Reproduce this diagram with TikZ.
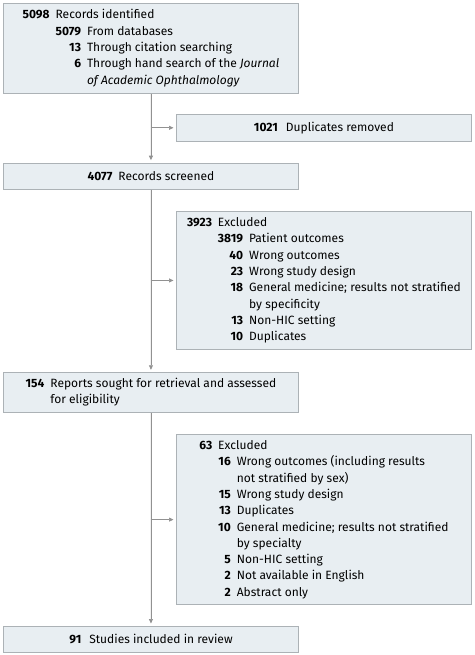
\documentclass[tikz,border=0pt]{standalone}
\usepackage{fontspec}
\setmainfont{Fira Sans}
\usepackage{tikz}
\usetikzlibrary{arrows.meta}

\definecolor{cajaFondo}{RGB}{232,238,242}
\definecolor{cajaBorde}{RGB}{172,178,182}
\definecolor{flechaGris}{RGB}{145,145,145}
\newcommand{\nbold}[1]{\textbf{#1}}

\begin{document}
\begin{tikzpicture}[
    x=1pt, y=-1pt,
    % Letra sin serifa, interlineado fijo
    font=\fontsize{12}{16.3}\selectfont,
    caja/.style={draw=cajaBorde, fill=cajaFondo, line width=0.9pt, anchor=north west, minimum width=295pt, inner sep=0pt, align=center},
    flechaFlujo/.style={-{Triangle[length=4.5pt, width=4pt]}, draw=flechaGris, fill=flechaGris, line width=0.7pt, shorten >=2.5pt}
]
    \useasboundingbox (0,0) rectangle (474,655);

    % --- CAJAS PRINCIPALES (columna izquierda) ---
    \node[caja, minimum height=89.7pt] (identified) at (3,3) {%
        \begin{tabular}{@{}r@{\hspace{6pt}}r@{\hspace{6pt}}l@{}}
            \nbold{5098} & \multicolumn{2}{@{}l@{}}{Records identified}\\
            & \nbold{5079} & From databases\\
            & \nbold{13} & Through citation searching\\
            & \nbold{6} & Through hand search of the \textit{Journal}\\
            & & \textit{of Academic Ophthalmology}
        \end{tabular}};
    \node[caja, minimum height=26pt] (screened) at (3,162.7) {\nbold{4077}\hspace{6pt}Records screened};
    \node[caja, minimum height=39.4pt] (reports) at (3,372.3) {%
        \begin{tabular}{@{}r@{\hspace{6pt}}l@{}}
            \nbold{154} & Reports sought for retrieval and assessed\\
            & for eligibility
        \end{tabular}};
    \node[caja, minimum height=25.7pt] (included) at (3,626) {\nbold{91}\hspace{8pt}Studies included in review};

    % --- CAJAS DE EXCLUSIÓN (columna derecha) ---
    \node[caja, minimum height=26.7pt] (duplicates) at (176,114) {\nbold{1021}\hspace{8pt}Duplicates removed};
    \node[caja, minimum height=138.6pt] (excludedA) at (176,210.7) {%
        \begin{tabular}{@{}r@{\hspace{6pt}}r@{\hspace{6pt}}l@{}}
            \nbold{3923} & \multicolumn{2}{@{}l@{}}{Excluded}\\
            & \nbold{3819} & Patient outcomes\\
            & \nbold{40} & Wrong outcomes\\
            & \nbold{23} & Wrong study design\\
            & \nbold{18} & General medicine; results not stratified\\
            & & by specificity\\
            & \nbold{13} & Non-HIC setting\\
            & \nbold{10} & Duplicates
        \end{tabular}};
    \node[caja, minimum height=169.7pt] (excludedB) at (176,434.3) {%
        \begin{tabular}{@{}r@{\hspace{6pt}}r@{\hspace{6pt}}l@{}}
            \nbold{63} & \multicolumn{2}{@{}l@{}}{Excluded}\\
            & \nbold{16} & Wrong outcomes (including results\\
            & & not stratified by sex)\\
            & \nbold{15} & Wrong study design\\
            & \nbold{13} & Duplicates\\
            & \nbold{10} & General medicine; results not stratified\\
            & & by specialty\\
            & \nbold{5} & Non-HIC setting\\
            & \nbold{2} & Not available in English\\
            & \nbold{2} & Abstract only
        \end{tabular}};

    % --- FLECHAS VERTICALES ---
    \draw[flechaFlujo] (identified) -- (screened);
    \draw[flechaFlujo] (screened) -- (reports);
    \draw[flechaFlujo] (reports) -- (included);

    % --- FLECHAS LATERALES ---
    \draw[flechaFlujo] (identified.south |- duplicates.west) -- (duplicates.west);
    \draw[flechaFlujo] (screened.south |- excludedA.west) -- (excludedA.west);
    \draw[flechaFlujo] (reports.south |- excludedB.west) -- (excludedB.west);

\end{tikzpicture}
\end{document}
